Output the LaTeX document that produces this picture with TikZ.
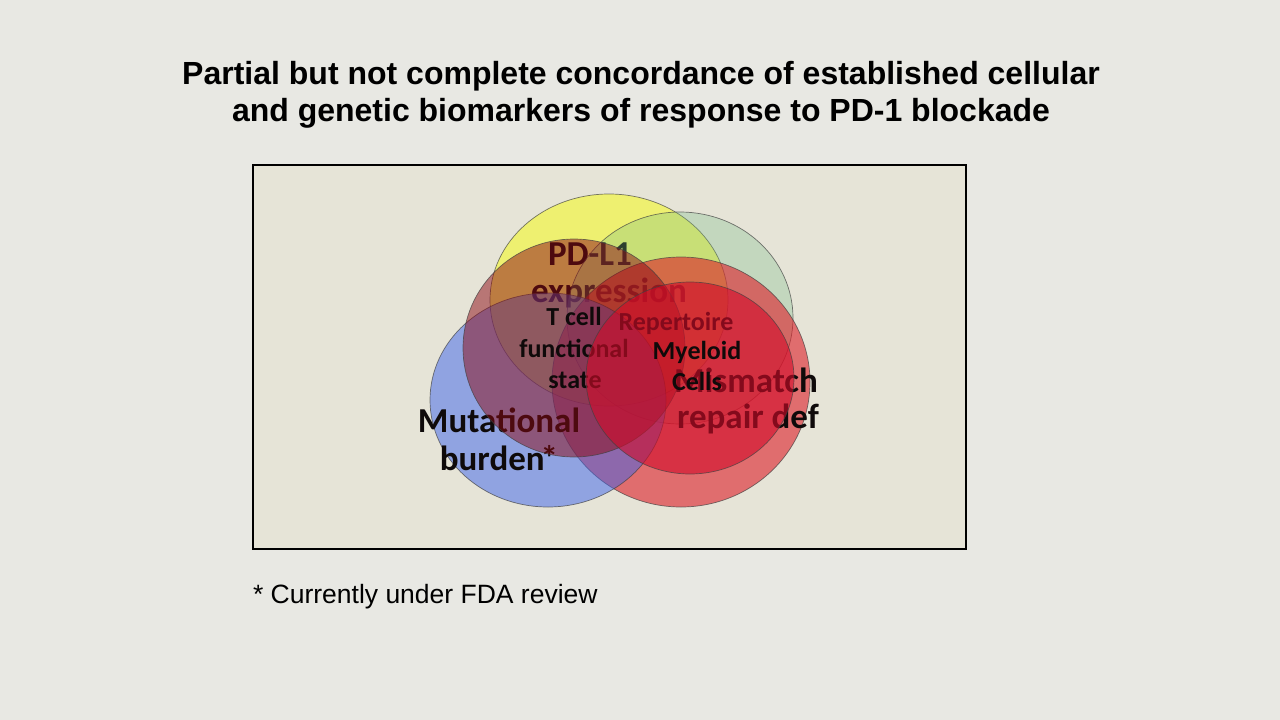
\documentclass[tikz,border=0pt]{standalone}
\usepackage{fontspec}
\setmainfont{Liberation Sans}
\newfontfamily\carl{Carlito}
\definecolor{slidebg}{RGB}{232,232,227}
\definecolor{boxbg}{RGB}{230,228,215}
\definecolor{cyellow}{RGB}{238,240,112}
\definecolor{cgreen}{RGB}{115,185,135}
\definecolor{cpink}{RGB}{220,30,40}
\definecolor{cblue}{RGB}{60,100,235}
\definecolor{cmaroon}{RGB}{140,10,20}
\definecolor{cred}{RGB}{210,10,40}
\definecolor{txt}{RGB}{15,10,10}
\tikzset{
  vennline/.style={draw=black!75, line width=0.7pt, draw opacity=0.7},
  biglabel/.style={anchor=base, text=txt, font=\carl\bfseries\fontsize{35}{40}\selectfont},
  smalllabel/.style={anchor=base, text=txt, font=\carl\bfseries\fontsize{26}{30}\selectfont},
  titletext/.style={anchor=base, font=\bfseries\fontsize{32}{36}\selectfont},
}
\begin{document}
\begin{tikzpicture}[x=1pt,y=-1pt, every node/.style={inner sep=0pt, outer sep=0pt}]
\fill[slidebg] (0,0) rectangle (1280,720);
\useasboundingbox (0,0) rectangle (1280,720);
% title
\node[titletext] (title1) at (641,84) {Partial but not complete concordance of established cellular};
\node[titletext] (title2) at (641,121) {and genetic biomarkers of response to PD-1 blockade};
% frame
\node[draw=black, line width=1.5pt, fill=boxbg, minimum width=713pt, minimum height=384pt] (frame) at (609.5,357) {};
% yellow (PD-L1)
\path[vennline, fill=cyellow] (609,300) ellipse [x radius=119pt, y radius=106pt];
\node[biglabel] (pdl1a) at (590,265) {PD-L1};
\node[biglabel] (pdl1b) at (609,302) {expression};
% green (Repertoire)
\path[vennline, fill=cgreen, fill opacity=0.3] (680,318) ellipse [x radius=113pt, y radius=106pt];
% pink (Mismatch)
\path[vennline, fill=cpink, fill opacity=0.6] (681,382) ellipse [x radius=129pt, y radius=125pt];
% blue (Mutational)
\path[vennline, fill=cblue, fill opacity=0.5] (548,400) ellipse [x radius=118pt, y radius=107pt];
\node[biglabel] (muta) at (499,432) {Mutational};
\node[biglabel] (mutb) at (499,470) {burden\kern-4pt*};
% maroon (T cell)
\path[vennline, fill=cmaroon, fill opacity=0.5] (574,348) ellipse [x radius=111pt, y radius=109pt];
\node[smalllabel] (tca) at (574,325) {T cell};
\node[smalllabel] (tcb) at (574,357) {functional};
\node[smalllabel] (tcc) at (575,388) {state};
\node[smalllabel] (rep) at (676,330) {Repertoire};
\node[biglabel] (mma) at (746,392) {Mismatch};
\node[biglabel] (mmb) at (748,428) {repair def};
% red (Myeloid)
\path[vennline, fill=cred, fill opacity=0.6] (690,378) ellipse [x radius=104pt, y radius=96pt];
\node[smalllabel] (mya) at (697,359) {Myeloid};
\node[smalllabel] (myb) at (697,390) {Cells};
% footnote
\node[anchor=base west, font=\fontsize{26.5}{30}\selectfont] (foot) at (253,603) {* Currently under FDA review};
\end{tikzpicture}
\end{document}
